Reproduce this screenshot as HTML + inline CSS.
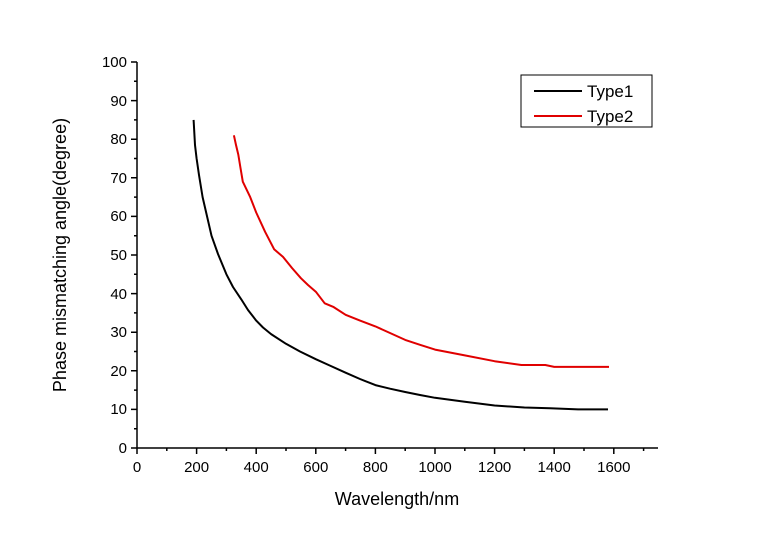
<!DOCTYPE html>
<html><head><meta charset="utf-8"><style>body{margin:0;background:#fff}svg{display:block}</style></head><body>
<svg width="768" height="536" xmlns="http://www.w3.org/2000/svg" font-family="Liberation Sans, Arial, sans-serif">
<rect width="768" height="536" fill="#fff"/>
<g stroke="#000" stroke-width="1.5" fill="none">
<line x1="137" y1="62" x2="137" y2="448"/>
<line x1="137" y1="448" x2="658" y2="448"/>
<path d="M137 448h-6M137 409.4h-6M137 370.8h-6M137 332.2h-6M137 293.6h-6M137 255h-6M137 216.4h-6M137 177.8h-6M137 139.2h-6M137 100.6h-6M137 62h-6"/>
<path d="M137 428.7h-3M137 390.1h-3M137 351.5h-3M137 312.9h-3M137 274.3h-3M137 235.7h-3M137 197.1h-3M137 158.5h-3M137 119.9h-3M137 81.3h-3"/>
<path d="M137 448v6M196.6 448v6M256.2 448v6M315.8 448v6M375.4 448v6M435 448v6M494.6 448v6M554.2 448v6M613.8 448v6"/>
<path d="M166.8 448v3M226.4 448v3M286 448v3M345.6 448v3M405.2 448v3M464.8 448v3M524.4 448v3M584 448v3M643.6 448v3"/>
</g>
<g font-size="15" text-anchor="end" fill="#000">
<text x="127" y="453">0</text><text x="127" y="414">10</text><text x="127" y="376">20</text><text x="127" y="337">30</text><text x="127" y="299">40</text><text x="127" y="260">50</text><text x="127" y="221">60</text><text x="127" y="183">70</text><text x="127" y="144">80</text><text x="127" y="106">90</text><text x="127" y="67">100</text>
</g>
<g font-size="15" text-anchor="middle" fill="#000">
<text x="137" y="472">0</text><text x="196.6" y="472">200</text><text x="256.2" y="472">400</text><text x="315.8" y="472">600</text><text x="375.4" y="472">800</text><text x="435" y="472">1000</text><text x="494.6" y="472">1200</text><text x="554.2" y="472">1400</text><text x="613.8" y="472">1600</text>
</g>
<text x="397" y="505" font-size="18" text-anchor="middle">Wavelength/nm</text>
<text transform="translate(66 255) rotate(-90)" font-size="18" text-anchor="middle">Phase mismatching angle(degree)</text>
<polyline fill="none" stroke="#000" stroke-width="2" stroke-linejoin="round" points="193.6,119.9 195,145 196.6,158.5 199,175 202.6,197.1 206.5,214 211.5,235.7 218,254 226.4,274.3 233,287 241.3,299.4 248,310 256.2,320.6 263,327.5 271.1,334.1 286,343.8 300,351.5 315.8,359.2 330,365.6 345.6,372.7 360,379 375.4,385.1 390,388.7 405.2,392 420,395 435,397.8 464.8,401.7 494.6,405.5 524.4,407.5 550,408.3 578,409.4 608,409.4"/>
<polyline fill="none" stroke="#e00000" stroke-width="2" stroke-linejoin="round" points="233.9,135.3 236,145 238.3,154.6 240.5,168 242.8,181.7 250.2,197.1 256.2,212.5 265.1,231.8 274.1,249.2 283,256.9 292,268 300.9,278.2 308,285 315.8,291.7 324.7,303.3 333.7,307.1 345.6,314.8 360,320.6 375.4,326.4 390,333 405.2,339.9 420,344.8 435,349.6 464.8,355.4 494.6,361.2 521.4,365 545.3,365 554.2,366.9 609,366.9"/>
<rect x="521" y="75" width="131" height="52" fill="#fff" stroke="#000" stroke-width="1"/>
<line x1="534" y1="91" x2="582" y2="91" stroke="#000" stroke-width="2"/>
<line x1="534" y1="116" x2="582" y2="116" stroke="#e00000" stroke-width="2"/>
<text x="587" y="97" font-size="17">Type1</text>
<text x="587" y="122" font-size="17">Type2</text>
</svg>
</body></html>
